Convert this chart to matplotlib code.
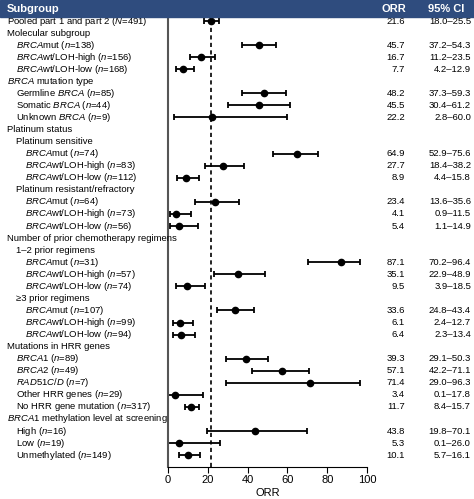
import matplotlib
matplotlib.use("Agg")
import matplotlib.pyplot as plt
from matplotlib.patches import Rectangle
import numpy as np

plt.rcParams['font.family'] = ['Liberation Sans', 'DejaVu Sans']
plt.rcParams['mathtext.fontset'] = 'custom'
plt.rcParams['mathtext.it'] = 'Liberation Sans:italic'
plt.rcParams['mathtext.rm'] = 'Liberation Sans'

B = r'$\mathit{BRCA}$'
labels = [
    r'Pooled part 1 and part 2 ($\mathit{N}$=491)', 'Molecular subgroup',
    B + r'mut ($\mathit{n}$=138)', B + r'wt/LOH-high ($\mathit{n}$=156)', B + r'wt/LOH-low ($\mathit{n}$=168)',
    B + ' mutation type',
    r'Germline $\mathit{BRCA}$ ($\mathit{n}$=85)', r'Somatic $\mathit{BRCA}$ ($\mathit{n}$=44)', r'Unknown $\mathit{BRCA}$ ($\mathit{n}$=9)',
    'Platinum status', 'Platinum sensitive',
    B + r'mut ($\mathit{n}$=74)', B + r'wt/LOH-high ($\mathit{n}$=83)', B + r'wt/LOH-low ($\mathit{n}$=112)',
    'Platinum resistant/refractory',
    B + r'mut ($\mathit{n}$=64)', B + r'wt/LOH-high ($\mathit{n}$=73)', B + r'wt/LOH-low ($\mathit{n}$=56)',
    'Number of prior chemotherapy regimens', '1–2 prior regimens',
    B + r'mut ($\mathit{n}$=31)', B + r'wt/LOH-high ($\mathit{n}$=57)', B + r'wt/LOH-low ($\mathit{n}$=74)',
    '≥3 prior regimens',
    B + r'mut ($\mathit{n}$=107)', B + r'wt/LOH-high ($\mathit{n}$=99)', B + r'wt/LOH-low ($\mathit{n}$=94)',
    'Mutations in HRR genes',
    r'$\mathit{BRCA1}$ ($\mathit{n}$=89)', r'$\mathit{BRCA2}$ ($\mathit{n}$=49)', r'$\mathit{RAD51C/D}$ ($\mathit{n}$=7)',
    r'Other HRR genes ($\mathit{n}$=29)', r'No HRR gene mutation ($\mathit{n}$=317)',
    r'$\mathit{BRCA1}$ methylation level at screening',
    r'High ($\mathit{n}$=16)', r'Low ($\mathit{n}$=19)', r'Unmethylated ($\mathit{n}$=149)',
]
indent = [0,0,1,1,1,0,1,1,1,0,1,2,2,2,1,2,2,2,0,1,2,2,2,1,2,2,2,0,1,1,1,1,1,0,1,1,1]
orr = [21.6,None,45.7,16.7,7.7,None,48.2,45.5,22.2,None,None,64.9,27.7,8.9,None,23.4,4.1,5.4,
       None,None,87.1,35.1,9.5,None,33.6,6.1,6.4,None,39.3,57.1,71.4,3.4,11.7,None,43.8,5.3,10.1]
lo = [18.0,None,37.2,11.2,4.2,None,37.3,30.4,2.8,None,None,52.9,18.4,4.4,None,13.6,0.9,1.1,
      None,None,70.2,22.9,3.9,None,24.8,2.4,2.3,None,29.1,42.2,29.0,0.1,8.4,None,19.8,0.1,5.7]
hi = [25.5,None,54.3,23.5,12.9,None,59.3,61.2,60.0,None,None,75.6,38.2,15.8,None,35.6,11.5,14.9,
      None,None,96.4,48.9,18.5,None,43.4,12.7,13.4,None,50.3,71.1,96.3,17.8,15.7,None,70.1,26.0,16.1]

fig = plt.figure(figsize=(4.74, 4.99), dpi=100)
W, H = 474, 499
ax = fig.add_axes([168/W, 1-467/H, (367-168)/W, (467-17)/H])
n = len(labels)
ax.set_xlim(0, 100)
ax.set_ylim(1 + 446/12.06, 0.668)
fs = 6.8
for i in range(n):
    y = i + 1
    ax.text((7 + 9*indent[i] - 168)/(367-168)*100, y, labels[i], fontsize=fs,
            ha='left', va='center', clip_on=False)
    if orr[i] is not None:
        ax.errorbar(orr[i], y, xerr=[[orr[i]-lo[i]], [hi[i]-orr[i]]], fmt='o', color='black',
                    ms=4.5, capsize=2.5, elinewidth=1.3, capthick=1.3)
        ax.text((405-168)/(367-168)*100, y, f'{orr[i]:.1f}', fontsize=fs, ha='right', va='center', clip_on=False)
        ax.text((471-168)/(367-168)*100, y, f'{lo[i]:.1f}–{hi[i]:.1f}', fontsize=fs, ha='right', va='center', clip_on=False)
ax.axvline(21.6, color='black', ls=(0, (2.5, 2)), lw=1.2)
for s in ['top', 'right']:
    ax.spines[s].set_visible(False)
ax.spines['left'].set_color('#555555')
ax.spines['left'].set_linewidth(1.5)
ax.set_yticks([])
ax.set_xticks(range(0, 101, 20))
ax.tick_params(axis='x', labelsize=8, length=4, pad=2)
ax.set_xlabel('ORR', fontsize=8, labelpad=2)

fig.patches.append(Rectangle((0, 1-17/H), 1, 17/H, transform=fig.transFigure, color='#2f4c7e', zorder=0))
fig.text(7/W, 1-9/H, 'Subgroup', color='white', fontweight='bold', fontsize=8, va='center')
fig.text(394/W, 1-9/H, 'ORR', color='white', fontweight='bold', fontsize=8, va='center', ha='center')
fig.text(446/W, 1-9/H, '95% CI', color='white', fontweight='bold', fontsize=8, va='center', ha='center')
fig.savefig('out.png', dpi=100)
